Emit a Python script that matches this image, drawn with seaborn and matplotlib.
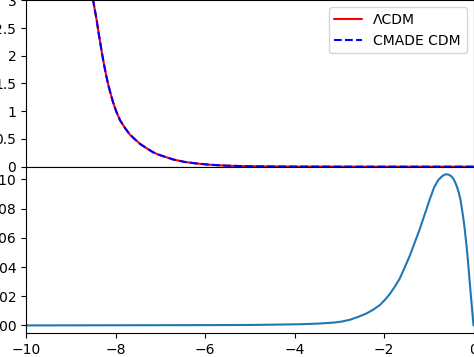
import matplotlib
matplotlib.use("Agg")
import matplotlib.pyplot as plt
import seaborn as sns
import pandas as pd

# ---- data ----
x_top = [-8.60, -8.55, -8.50, -8.46, -8.42, -8.385, -8.35, -8.31, -8.27, -8.215,
         -8.16, -8.10, -8.05, -7.98, -7.90, -7.79, -7.68, -7.56, -7.45, -7.30,
         -7.16, -7.03, -6.90, -6.71, -6.45, -6.19, -5.89, -5.50, -5.07, -4.50,
         -4.00, -3.00, -2.00, -1.00, 0.00]
lcdm = [3.60, 3.30, 3.00, 2.82, 2.64, 2.45, 2.28, 2.08, 1.90, 1.67,
        1.47, 1.29, 1.15, 0.99, 0.84, 0.70, 0.58, 0.49, 0.41, 0.33,
        0.26, 0.215, 0.18, 0.13, 0.085, 0.058, 0.035, 0.018, 0.009, 0.004,
        0.002, 0.0005, 0.0001, 0.0, 0.0]
cmade = [3.60, 3.30, 3.00, 2.82, 2.64, 2.45, 2.28, 2.08, 1.90, 1.67,
         1.47, 1.29, 1.15, 0.99, 0.84, 0.70, 0.58, 0.49, 0.41, 0.33,
         0.26, 0.215, 0.18, 0.13, 0.085, 0.058, 0.035, 0.018, 0.009, 0.004,
         0.002, 0.0005, 0.0001, 0.0, 0.0]

x_bot = [-10.0, -8.0, -6.0, -5.0, -4.5, -3.88, -3.50, -3.13, -2.95, -2.76,
         -2.58, -2.39, -2.24, -2.09, -1.98, -1.87, -1.76, -1.65, -1.54, -1.42,
         -1.31, -1.20, -1.08, -0.97, -0.88, -0.79, -0.70, -0.65, -0.60, -0.55,
         -0.50, -0.45, -0.41, -0.37, -0.33, -0.29, -0.26, -0.23, -0.20, -0.175,
         -0.15, -0.115, -0.08, -0.06, -0.04, -0.02, 0.0]
diff = [0.0, 0.0001, 0.0002, 0.0003, 0.0005, 0.0008, 0.0012, 0.0019, 0.0026, 0.0039,
        0.0058, 0.0082, 0.0108, 0.0140, 0.0175, 0.0215, 0.0265, 0.0320, 0.0395, 0.0480,
        0.0570, 0.0660, 0.0770, 0.0870, 0.0945, 0.0995, 0.1022, 0.1032, 0.1035, 0.1032,
        0.1022, 0.1005, 0.0980, 0.0950, 0.0910, 0.0860, 0.0800, 0.0740, 0.0670, 0.0600,
        0.0530, 0.0410, 0.0280, 0.0210, 0.0140, 0.0070, 0.0]

top_yticks = [0, 0.5, 1, 1.5, 2, 2.5, 3]
top_yticklabels = ["0", "0.5", "1", "1.5", "2", "2.5", "3"]
bot_yticks = [0.00, 0.02, 0.04, 0.06, 0.08, 0.10]
xticks = [-10, -8, -6, -4, -2, 0]

sns.set_theme(style="ticks", rc={
    "axes.edgecolor": "black", "xtick.color": "black", "ytick.color": "black",
    "text.color": "black", "axes.labelcolor": "black",
    "xtick.labelsize": 10, "ytick.labelsize": 10, "legend.fontsize": 10,
    "axes.linewidth": 0.8, "xtick.major.width": 0.8, "ytick.major.width": 0.8,
    "xtick.major.size": 3.5, "ytick.major.size": 3.5,
})
plt.rcParams["font.family"] = ["DejaVu Sans"]

W, H = 474, 357
fig = plt.figure(figsize=(W / 100, H / 100), dpi=100)
left = 26 / W
right = 473.5 / W
y_mid = 1 - 166.7 / H
y_bot = 1 - 333 / H
y_top = 1 - 0.3 / H
ax1 = fig.add_axes([left, y_mid, right - left, y_top - y_mid])
ax2 = fig.add_axes([left, y_bot, right - left, y_mid - y_bot], sharex=ax1)

df_top = pd.DataFrame({"x": x_top, "lcdm": lcdm, "cmade": cmade})
sns.lineplot(data=df_top, x="x", y="lcdm", ax=ax1, color="red", linestyle="-",
             linewidth=1.5, label="ΛCDM")
sns.lineplot(data=df_top, x="x", y="cmade", ax=ax1, color="blue", linestyle="--",
             linewidth=1.5, label="CMADE CDM")
ax1.set_ylim(0, 3)
ax1.set_yticks(top_yticks)
ax1.set_yticklabels(top_yticklabels)
ax1.tick_params(axis="x", bottom=False, labelbottom=False)
ax1.set_xlabel("")
ax1.set_ylabel("")
ax1.legend(loc="upper right", frameon=True, fancybox=True, framealpha=0.8,
           edgecolor="0.8")

df_bot = pd.DataFrame({"x": x_bot, "d": diff})
sns.lineplot(data=df_bot, x="x", y="d", ax=ax2, color="#1f77b4", linewidth=1.5)
ax2.set_xlim(-10, 0)
ax2.set_ylim(-0.0052, 0.1087)
ax2.set_yticks(bot_yticks)
ax2.set_yticklabels([f"{v:.2f}" for v in bot_yticks])
ax2.set_xticks(xticks)
ax2.set_xticklabels([f"\u2212{abs(v)}" if v < 0 else str(v) for v in xticks])
ax2.set_xlabel("")
ax2.set_ylabel("")

for ax in (ax1, ax2):
    for s in ax.spines.values():
        s.set_visible(True)

fig.savefig("out.png", dpi=100)
